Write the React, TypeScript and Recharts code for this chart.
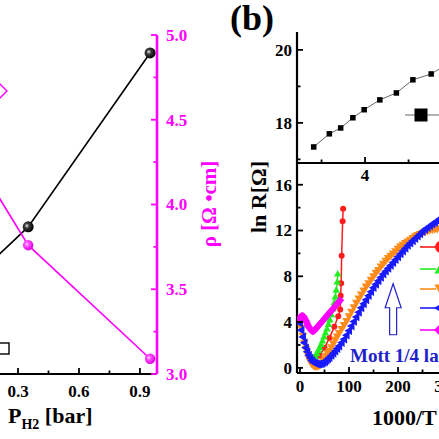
import React from 'react';
import { LineChart, Line, XAxis, YAxis, Legend, ReferenceDot, Label } from 'recharts';

const SERIF = '"Liberation Serif", "Times New Roman", Times, serif';
const MAGENTA = '#ff00ff';
const RED = '#ff1c1c';
const GREEN = '#22ee22';
const ORANGE = '#ff8c1a';
const BLUE = '#1a1aff';
const MOTT_BLUE = '#2222cc';

// ---------- panel (a): versus hydrogen partial pressure ----------
const pressureBar = [0.1, 0.35, 0.95];
const leftQuantity = [29.2, 43.4, 94.7];
const rhoOhmCm = [4.25, 3.76, 3.09];
const pressureTicks = [0, 0.15, 0.3, 0.45, 0.6, 0.75, 0.9];
const pressureMajor = [0, 0.3, 0.6, 0.9];
const rhoTicks = [3, 3.25, 3.5, 3.75, 4, 4.25, 4.5, 4.75, 5];
const rhoMajor = [3, 3.5, 4, 4.5, 5];

// ---------- panel (b), upper: ln R of the reference film ----------
const insetT = [3.41, 3.59, 3.72, 3.86, 3.99, 4.17, 4.36, 4.55, 4.76, 4.97];
const insetLnR = [17.34, 17.7, 17.86, 18.14, 18.36, 18.63, 18.82, 19.18, 19.34, 19.65];
const insetXTicks = [3.5, 4, 4.5, 5, 5.5];
const insetXMajor = [4, 5];
const insetYTicks = [17, 18, 19, 20];
const insetYMajor = [18, 20];

// ---------- panel (b), lower: ln R versus 1000/T ----------
const redCurve: [number, number][] = [
  [30, 0.55], [40, 1.05], [50, 1.75], [60, 2.6], [70, 3.6], [78, 4.5], [82, 5.1],
  [83, 6.3], [84, 7.4], [85, 9.8], [87, 12.8], [88, 13.9],
];
const greenCurve: [number, number][] = [
  [28, 0.85], [31, 1.0], [34, 1.25], [37, 1.5], [40, 1.75], [43, 2.05], [46, 2.35],
  [49, 2.7], [52, 3.05], [55, 3.4], [58, 3.8], [61, 4.2], [64, 4.65], [67, 5.15],
  [70, 5.7], [72, 6.2], [74, 6.8], [76, 7.5], [77, 8.2],
];
const orangeCurve: [number, number][] = [
  [0, 4.2], [3, 3.5], [6, 2.8], [9, 2.2], [12, 1.65], [15, 1.2], [18, 0.85], [21, 0.55],
  [24, 0.35], [27, 0.22], [30, 0.15], [33, 0.12], [36, 0.14], [39, 0.2], [42, 0.3],
  [45, 0.45], [48, 0.62], [51, 0.82], [54, 1.03], [57, 1.25], [60, 1.48], [64, 1.8],
  [68, 2.12], [72, 2.45], [76, 2.75], [80, 3.05], [85, 3.4], [90, 3.75], [95, 4.1],
  [100, 4.5], [105, 4.9], [110, 5.3], [115, 5.7], [120, 6.05], [125, 6.4], [130, 6.75],
  [135, 7.1], [140, 7.4], [145, 7.7], [150, 8.0], [155, 8.3], [160, 8.55], [165, 8.85],
  [170, 9.1], [175, 9.35], [180, 9.6], [185, 9.8], [190, 10.0], [195, 10.2], [200, 10.4],
  [205, 10.6], [210, 10.75], [215, 10.9], [220, 11.05], [225, 11.2], [230, 11.35],
  [235, 11.5], [240, 11.6], [245, 11.7], [250, 11.8], [255, 11.9], [260, 11.97],
  [265, 12.03], [270, 12.08], [275, 12.12], [280, 12.15], [285, 12.18],
];
const blueCurve: [number, number][] = [
  [0, 3.9], [3, 3.3], [6, 2.7], [9, 2.2], [12, 1.75], [15, 1.4], [18, 1.1], [21, 0.85],
  [24, 0.65], [27, 0.5], [30, 0.42], [33, 0.36], [36, 0.33], [39, 0.32], [42, 0.34],
  [45, 0.38], [48, 0.45], [51, 0.55], [54, 0.66], [57, 0.78], [60, 0.9], [64, 1.08],
  [68, 1.27], [72, 1.47], [76, 1.68], [80, 1.9], [85, 2.2], [90, 2.5], [95, 2.85],
  [100, 3.25], [105, 3.65], [110, 4.05], [115, 4.45], [120, 4.85], [125, 5.25],
  [130, 5.6], [135, 5.95], [140, 6.3], [145, 6.65], [150, 7.0], [155, 7.3], [160, 7.6],
  [165, 7.9], [170, 8.2], [175, 8.45], [180, 8.7], [185, 8.95], [190, 9.2], [195, 9.45],
  [200, 9.7], [205, 9.95], [210, 10.2], [215, 10.45], [220, 10.7], [225, 10.9],
  [230, 11.1], [235, 11.3], [240, 11.5], [245, 11.7], [250, 11.9], [255, 12.1],
  [260, 12.25], [265, 12.4], [270, 12.55], [275, 12.7], [280, 12.85], [285, 13.0],
  [290, 13.15],
];
const magentaCurve: [number, number][] = [
  [-2, 4.3], [0, 4.4], [2, 4.48], [4, 4.52], [6, 4.52], [8, 4.45], [10, 4.3], [12, 4.12],
  [14, 3.93], [16, 3.75], [18, 3.58], [20, 3.45], [22, 3.33], [24, 3.25], [26, 3.2],
  [28, 3.22], [30, 3.3], [32, 3.4], [34, 3.5], [37, 3.65], [40, 3.8], [43, 3.95],
  [46, 4.1], [49, 4.25], [52, 4.4], [55, 4.55], [58, 4.7], [61, 4.85], [64, 5.0],
  [67, 5.15], [70, 5.3], [73, 5.45], [76, 5.6], [79, 5.75], [82, 5.9],
];
const invTTicks = [0, 50, 100, 150, 200, 250, 300, 350, 400];
const invTMajor = [0, 100, 200, 300, 400];
const lnRTicks = [0, 2, 4, 6, 8, 10, 12, 14, 16];
const lnRMajor = [0, 4, 8, 12, 16];

// Arrow and caption anchors (data coordinates)
const arrowTip = { x: 190, y: 7.35 };
const mottCaption = { x: 102, y: 0.5, text: 'Mott 1/4 law' };

const toRows = (pairs: [number, number][]) => pairs.map(([x, y]) => ({ x, y }));
const zipRows = (xs: number[], ys: number[]) => xs.map((x, i) => ({ x, y: ys[i] }));

const pressureRows = zipRows(pressureBar, leftQuantity);
const rhoRows = zipRows(pressureBar, rhoOhmCm);
const insetRows = zipRows(insetT, insetLnR);

// ---------- helpers ----------
type Side = 'bottom' | 'left' | 'right';
interface TickOpts {
  side: Side;
  majors: number[];
  color: string;
  fmt?: (v: number) => string;
  fontSize: number;
  gap: number;
  major?: number;
  minor?: number;
}

function axisTick(o: TickOpts) {
  return (p: any) => {
    const { x, y, payload, index } = p;
    const v = payload.value as number;
    const isMajor = o.majors.some((m) => Math.abs(m - v) < 1e-6);
    const len = isMajor ? o.major ?? 6 : o.minor ?? 3.5;
    const str = isMajor && o.fmt ? o.fmt(v) : '';
    const textStyle = { fontFamily: SERIF, fontWeight: 700, fontSize: o.fontSize, fill: o.color };
    let tl: React.ReactNode;
    let label: React.ReactNode = null;
    if (o.side === 'bottom') {
      tl = <line x1={x} y1={y} x2={x} y2={y - len} stroke={o.color} strokeWidth={1.8} />;
      if (str) label = <text x={x} y={y + o.gap} textAnchor="middle" style={textStyle}>{str}</text>;
    } else if (o.side === 'left') {
      tl = <line x1={x} y1={y} x2={x + len} y2={y} stroke={o.color} strokeWidth={1.8} />;
      if (str) label = <text x={x - o.gap} y={y} dy="0.35em" textAnchor="end" style={textStyle}>{str}</text>;
    } else {
      tl = <line x1={x} y1={y} x2={x - len} y2={y} stroke={o.color} strokeWidth={1.8} />;
      if (str) label = <text x={x + o.gap} y={y} dy="0.35em" textAnchor="start" style={textStyle}>{str}</text>;
    }
    return (
      <g key={`tick-${index}-${v}`}>
        {tl}
        {label}
      </g>
    );
  };
}

function dotWith(shape: (cx: number, cy: number) => React.ReactNode) {
  return (p: any) => {
    const { cx, cy, index } = p;
    if (cx == null || cy == null || Number.isNaN(cx) || Number.isNaN(cy)) return <g key={`n-${index}`} />;
    return <g key={`d-${index}`}>{shape(cx, cy)}</g>;
  };
}

const sphere = (id: string, light: string, mid: string, dark: string, r: number) => (cx: number, cy: number) => (
  <>
    <defs>
      <radialGradient id={id} cx="38%" cy="40%" r="62%">
        <stop offset="0%" stopColor={light} />
        <stop offset="35%" stopColor={mid} />
        <stop offset="100%" stopColor={dark} />
      </radialGradient>
    </defs>
    <circle cx={cx} cy={cy} r={r} fill={`url(#${id})`} />
  </>
);

const circleMark = (fill: string, r: number) => (cx: number, cy: number) => <circle cx={cx} cy={cy} r={r} fill={fill} />;
const triUp = (fill: string, s: number) => (cx: number, cy: number) => (
  <path d={`M${cx},${cy - s} L${cx + s * 0.95},${cy + s * 0.65} L${cx - s * 0.95},${cy + s * 0.65} Z`} fill={fill} />
);
const triDown = (fill: string, s: number) => (cx: number, cy: number) => (
  <path d={`M${cx},${cy + s} L${cx + s * 0.95},${cy - s * 0.65} L${cx - s * 0.95},${cy - s * 0.65} Z`} fill={fill} />
);
const triLeft = (fill: string, s: number) => (cx: number, cy: number) => (
  <path d={`M${cx - s},${cy} L${cx + s * 0.65},${cy - s * 0.95} L${cx + s * 0.65},${cy + s * 0.95} Z`} fill={fill} />
);
const diamond = (fill: string, s: number) => (cx: number, cy: number) => (
  <path d={`M${cx},${cy - s} L${cx + s},${cy} L${cx},${cy + s} L${cx - s},${cy} Z`} fill={fill} />
);
const square = (fill: string, s: number) => (cx: number, cy: number) => (
  <rect x={cx - s / 2} y={cy - s / 2} width={s} height={s} fill={fill} />
);

const blackSphere = sphere('ballBlack', '#e8e8e8', '#3a3a3a', '#000000', 5.5);
const pinkSphere = sphere('ballPink', '#ffd8ff', '#ff4dff', '#e000e0', 5.2);

// ---------- layout ----------
const A_LEFT = -100;
const B_LEFT = 215;

const titleStyle = (size: number, fill = '#000') => ({ fontFamily: SERIF, fontWeight: 700, fontSize: size, fill });

function PanelA() {
  return (
    <div style={{ position: 'absolute', left: A_LEFT, top: 0 }}>
      <LineChart width={357} height={439} margin={{ top: 35, right: 40, bottom: 0, left: 40 }}>
        <XAxis
          xAxisId="p"
          type="number"
          dataKey="x"
          domain={[-0.084, 0.984]}
          allowDataOverflow
          ticks={pressureTicks}
          interval={0}
          tickSize={0}
          tickMargin={0}
          tickLine={false}
          height={65}
          axisLine={{ stroke: '#000', strokeWidth: 2.2 }}
          tick={axisTick({ side: 'bottom', majors: pressureMajor, color: '#000', fmt: (v) => v.toFixed(1), fontSize: 17, gap: 23 })}
        >
          <Label
            content={() => (
              <text x={108} y={423} style={titleStyle(22)}>
                P
                <tspan dy={6} style={{ fontSize: 14 }}>H2</tspan>
                <tspan dy={-6}> [bar]</tspan>
              </text>
            )}
          />
        </XAxis>
        <XAxis
          xAxisId="frame"
          type="number"
          orientation="top"
          domain={[-0.084, 0.984]}
          allowDataOverflow
          height={0}
          tick={false}
          tickLine={false}
          axisLine={{ stroke: '#000', strokeWidth: 2.2 }}
        />
        <YAxis yAxisId="aux" hide domain={[0, 100]} allowDataOverflow />
        <YAxis
          yAxisId="rho"
          orientation="right"
          width={60}
          domain={[3, 5]}
          allowDataOverflow
          ticks={rhoTicks}
          interval={0}
          tickSize={0}
          tickMargin={0}
          tickLine={false}
          axisLine={{ stroke: MAGENTA, strokeWidth: 2.6 }}
          tick={axisTick({ side: 'right', majors: rhoMajor, color: MAGENTA, fmt: (v) => v.toFixed(1), fontSize: 17, gap: 9 })}
        >
          <Label
            content={() => (
              <text x={309} y={204} textAnchor="middle" dy="0.35em" transform="rotate(-90 309 204)" style={titleStyle(21, MAGENTA)}>
                ρ [Ω •cm]
              </text>
            )}
          />
        </YAxis>
        <Line
          xAxisId="p"
          yAxisId="aux"
          data={pressureRows}
          dataKey="y"
          stroke="#000"
          strokeWidth={1.6}
          dot={dotWith(blackSphere)}
          isAnimationActive={false}
        />
        <Line
          xAxisId="p"
          yAxisId="rho"
          data={rhoRows}
          dataKey="y"
          stroke={MAGENTA}
          strokeWidth={1.6}
          dot={dotWith(pinkSphere)}
          isAnimationActive={false}
        />
        <Legend
          layout="horizontal"
          verticalAlign="middle"
          align="center"
          wrapperStyle={{ left: 0, top: 0, width: 120, height: 439 }}
          content={() => (
            <svg width={120} height={439}>
              <path d="M93,91 L100,84 L107,91 L100,98 Z" fill="none" stroke={MAGENTA} strokeWidth={1.4} />
              <rect x={97} y={343} width={12} height={11} fill="none" stroke="#000" strokeWidth={1.4} />
            </svg>
          )}
        />
      </LineChart>
    </div>
  );
}

function PanelBLower() {
  const rows: { c: string; shape: (cx: number, cy: number) => React.ReactNode }[] = [
    { c: RED, shape: circleMark(RED, 6) },
    { c: GREEN, shape: triUp(GREEN, 7) },
    { c: ORANGE, shape: triDown(ORANGE, 7) },
    { c: BLUE, shape: triLeft(BLUE, 7) },
    { c: MAGENTA, shape: diamond(MAGENTA, 7) },
  ];
  const rowY = [12, 34, 54, 73, 95];
  return (
    <div style={{ position: 'absolute', left: B_LEFT, top: 0 }}>
      <LineChart width={285} height={439} margin={{ top: 163, right: 0, bottom: 0, left: 0 }}>
        <XAxis
          type="number"
          dataKey="x"
          domain={[-6.1, 408]}
          allowDataOverflow
          ticks={invTTicks}
          interval={0}
          tickSize={0}
          tickMargin={0}
          tickLine={false}
          height={66}
          axisLine={{ stroke: '#000', strokeWidth: 2.2 }}
          tick={axisTick({ side: 'bottom', majors: invTMajor, color: '#000', fmt: (v) => String(v), fontSize: 17, gap: 19 })}
        >
          <Label content={() => <text x={157} y={425} style={titleStyle(22)}>1000/T</text>} />
        </XAxis>
        <YAxis
          type="number"
          width={82}
          domain={[-0.45, 17.9]}
          allowDataOverflow
          ticks={lnRTicks}
          interval={0}
          tickSize={0}
          tickMargin={0}
          tickLine={false}
          axisLine={{ stroke: '#000', strokeWidth: 2.2 }}
          tick={axisTick({ side: 'left', majors: lnRMajor, color: '#000', fmt: (v) => String(v), fontSize: 17, gap: 5 })}
        >
          <Label
            content={() => (
              <text x={43} y={197} textAnchor="middle" dy="0.35em" transform="rotate(-90 43 197)" style={titleStyle(22)}>
                ln R[Ω]
              </text>
            )}
          />
        </YAxis>
        <Line data={toRows(redCurve)} dataKey="y" stroke={RED} strokeWidth={1.5} dot={dotWith(circleMark(RED, 3))} isAnimationActive={false} />
        <Line data={toRows(greenCurve)} dataKey="y" stroke={GREEN} strokeWidth={1.5} dot={dotWith(triUp(GREEN, 4))} isAnimationActive={false} />
        <Line data={toRows(orangeCurve)} dataKey="y" stroke={ORANGE} strokeWidth={1.5} dot={dotWith(triDown(ORANGE, 4.6))} isAnimationActive={false} />
        <Line data={toRows(blueCurve)} dataKey="y" stroke={BLUE} strokeWidth={1.5} dot={dotWith(triLeft(BLUE, 4.6))} isAnimationActive={false} />
        <Line data={toRows(magentaCurve)} dataKey="y" stroke={MAGENTA} strokeWidth={1.5} dot={dotWith(diamond(MAGENTA, 4))} isAnimationActive={false} />
        <ReferenceDot
          x={arrowTip.x}
          y={arrowTip.y}
          r={1}
          ifOverflow="visible"
          shape={(p: any) => {
            const { cx, cy } = p;
            return (
              <path
                d={`M${cx},${cy} L${cx + 8},${cy + 24} L${cx + 3.5},${cy + 24} L${cx + 3.5},${cy + 51} L${cx - 3.5},${cy + 51} L${cx - 3.5},${cy + 24} L${cx - 8},${cy + 24} Z`}
                fill="none"
                stroke={MOTT_BLUE}
                strokeWidth={1.2}
              />
            );
          }}
        />
        <ReferenceDot
          x={mottCaption.x}
          y={mottCaption.y}
          r={1}
          ifOverflow="visible"
          shape={(p: any) => (
            <text x={p.cx} y={p.cy} style={titleStyle(19, MOTT_BLUE)}>
              {mottCaption.text}
            </text>
          )}
        />
        <Legend
          layout="horizontal"
          verticalAlign="middle"
          align="center"
          wrapperStyle={{ left: 205, top: 235, width: 80, height: 110 }}
          content={() => (
            <svg width={80} height={110}>
              {rows.map((r, i) => (
                <g key={i}>
                  <line x1={0} y1={rowY[i]} x2={16} y2={rowY[i]} stroke={r.c} strokeWidth={1.6} />
                  {r.shape(21, rowY[i])}
                </g>
              ))}
            </svg>
          )}
        />
      </LineChart>
    </div>
  );
}

function PanelBUpper() {
  return (
    <div style={{ position: 'absolute', left: B_LEFT, top: 0 }}>
      <LineChart width={285} height={193} margin={{ top: 32, right: 0, bottom: 0, left: 0 }}>
        <XAxis
          type="number"
          dataKey="x"
          domain={[3.218, 5.551]}
          allowDataOverflow
          ticks={insetXTicks}
          interval={0}
          tickSize={0}
          tickMargin={0}
          tickLine={false}
          height={30}
          axisLine={{ stroke: '#000', strokeWidth: 2.2 }}
          tick={axisTick({ side: 'bottom', majors: insetXMajor, color: '#000', fmt: (v) => String(v), fontSize: 17, gap: 18 })}
        />
        <XAxis
          xAxisId="frame"
          type="number"
          orientation="top"
          domain={[3.218, 5.551]}
          allowDataOverflow
          height={0}
          tick={false}
          tickLine={false}
          axisLine={{ stroke: '#000', strokeWidth: 2.2 }}
        />
        <YAxis
          type="number"
          width={82}
          domain={[16.9, 20.49]}
          allowDataOverflow
          ticks={insetYTicks}
          interval={0}
          tickSize={0}
          tickMargin={0}
          tickLine={false}
          axisLine={{ stroke: '#000', strokeWidth: 2.2 }}
          tick={axisTick({ side: 'left', majors: insetYMajor, color: '#000', fmt: (v) => String(v), fontSize: 17, gap: 5 })}
        >
          <Label content={() => <text x={15} y={30} style={titleStyle(36)}>(b)</text>} />
        </YAxis>
        <Line
          data={insetRows}
          dataKey="y"
          stroke="#666"
          strokeWidth={1}
          dot={dotWith(square('#000', 5.5))}
          isAnimationActive={false}
        />
        <Legend
          layout="horizontal"
          verticalAlign="middle"
          align="center"
          wrapperStyle={{ left: 190, top: 105, width: 60, height: 22 }}
          content={() => (
            <svg width={60} height={22}>
              <line x1={0} y1={10} x2={40} y2={10} stroke="#666" strokeWidth={1} />
              <rect x={9.5} y={3.5} width={13} height={13} fill="#000" />
            </svg>
          )}
        />
      </LineChart>
    </div>
  );
}

export default function App() {
  return (
    <div style={{ position: 'fixed', left: 0, top: 0, width: 439, height: 439, overflow: 'hidden', background: '#fff' }}>
      <PanelBLower />
      <PanelBUpper />
      <PanelA />
    </div>
  );
}
